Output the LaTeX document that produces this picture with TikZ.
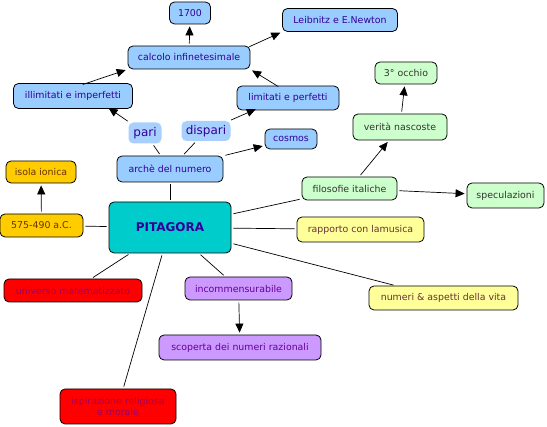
\documentclass[tikz,border=0pt]{standalone}
\usepackage{fontspec}
\setmainfont{DejaVu Sans}
\usetikzlibrary{arrows.meta}
\definecolor{cblue}{HTML}{99CCFF}
\definecolor{cpari}{HTML}{A8D0FF}
\definecolor{cteal}{HTML}{00CCCC}
\definecolor{corange}{HTML}{FFCC00}
\definecolor{cred}{HTML}{FF0000}
\definecolor{cpurple}{HTML}{CC99FF}
\definecolor{cgreen}{HTML}{CCFFCC}
\definecolor{cyellow}{HTML}{FFFF99}
\definecolor{tblue}{HTML}{330099}
\definecolor{tbrown}{HTML}{663300}
\definecolor{tred}{HTML}{990066}
\definecolor{tgreen}{HTML}{333333}
\definecolor{tyellow}{HTML}{663333}
\definecolor{tpurple}{HTML}{660099}
\tikzset{
  box/.style={draw=black, line width=0.8pt, rounded corners=5pt, align=center,
    inner sep=0pt, font=\fontsize{9.4}{11}\selectfont},
  bluebox/.style={box, fill=cblue, text=tblue},
  orangebox/.style={box, fill=corange, text=tbrown},
  redbox/.style={box, fill=cred, text=tred},
  purplebox/.style={box, fill=cpurple, text=tpurple},
  greenbox/.style={box, fill=cgreen, text=tgreen},
  yellowbox/.style={box, fill=cyellow, text=tyellow},
  linkbox/.style={fill=cpari, rounded corners=5pt, text=tblue, inner sep=0pt,
    font=\fontsize{12}{14}\selectfont},
  conn/.style={line width=0.7pt, shorten <=2pt, shorten >=2pt},
  arr/.style={conn, -{Triangle[length=9pt,width=8pt]}},
}
\begin{document}
\begin{tikzpicture}[x=1pt,y=-1pt]
\useasboundingbox (0,0) rectangle (547,427);
\fill[white] (0,0) rectangle (547,427);
% blue nodes
\node[bluebox, minimum width=41pt, minimum height=22pt] (y1700) at (190,13) {1700};
\node[bluebox, minimum width=122pt, minimum height=23pt] (calc) at (189,57.5) {calcolo infinetesimale};
\node[bluebox, minimum width=115pt, minimum height=23pt] (leib) at (340,20) {Leibnitz e E.Newton};
\node[bluebox, minimum width=119pt, minimum height=25pt] (illim) at (73,96) {illimitati e imperfetti};
\node[bluebox, minimum width=102pt, minimum height=24pt] (lim) at (288,98) {limitati e perfetti};
\node[linkbox, minimum width=33pt, minimum height=21pt] (pari) at (145,133) {pari};
\node[linkbox, minimum width=49pt, minimum height=20pt] (disp) at (206,131) {dispari};
\node[bluebox, minimum width=52pt, minimum height=20pt] (cosmos) at (291,139) {cosmos};
\node[bluebox, minimum width=106pt, minimum height=26pt] (arche) at (170,169) {archè del numero};
% center
\node[box, fill=cteal, text=tblue, minimum width=122pt, minimum height=51pt,
  font=\fontsize{12}{14}\selectfont\bfseries] (pit) at (170,227.5) {PITAGORA};
% orange
\node[orangebox, minimum width=70pt, minimum height=22pt] (isola) at (41,172) {isola ionica};
\node[orangebox, minimum width=83pt, minimum height=23pt] (date) at (41.5,225.5) {575-490 a.C.};
% red
\node[redbox, minimum width=138pt, minimum height=23pt] (univ) at (73,290.5) {universo matematizzato};
\node[redbox, minimum width=116pt, minimum height=35pt] (ispir) at (118,406.5) {ispirazione religiosa\\e morale};
% purple
\node[purplebox, minimum width=107pt, minimum height=23pt] (incomm) at (238.5,288.5) {incommensurabile};
\node[purplebox, minimum width=162pt, minimum height=25pt] (scop) at (240,347.5) {scoperta dei numeri razionali};
% green
\node[greenbox, minimum width=62pt, minimum height=22pt] (occhio) at (406,73) {3° occhio};
\node[greenbox, minimum width=94pt, minimum height=26pt] (verita) at (400,127) {verità nascoste};
\node[greenbox, minimum width=95pt, minimum height=23pt] (filo) at (349.5,188.5) {filosofie italiche};
\node[greenbox, minimum width=77pt, minimum height=25pt] (spec) at (505.5,195.5) {speculazioni};
% yellow
\node[yellowbox, minimum width=127pt, minimum height=25pt] (rapp) at (360.5,229.5) {rapporto con lamusica};
\node[yellowbox, minimum width=149pt, minimum height=24pt] (numeri) at (443.5,298) {numeri \& aspetti della vita};
% connectors
\draw[arr] (calc) -- (y1700);
\draw[arr] (calc.north east) ++(-3pt,-2pt) coordinate (c1) (c1) -- (leib.south west);
\draw[arr] (illim.north) ++(8pt,-2pt) coordinate (c2) (c2) -- (calc.south west);
\draw[arr] (lim.north) ++(-8pt,-2pt) coordinate (c3) (c3) -- (calc.south east);
\draw[conn] (arche) -- (pari);
\draw[arr] (pari) -- ([xshift=-26pt,yshift=2pt]illim.south east);
\draw[conn] (arche) -- (disp);
\draw[arr] (disp) -- ([xshift=21pt,yshift=2pt]lim.south west);
\draw[arr] (arche) -- (cosmos);
\draw[conn] (arche) -- (pit);
\draw[arr] (date) -- (isola);
\draw[conn] (date) -- (pit);
\draw[conn] (pit) -- (univ);
\draw[conn] (pit) -- (ispir);
\draw[conn] (pit) -- (incomm);
\draw[arr] (incomm) -- (scop);
\draw[conn] (pit) -- (filo);
\draw[conn] (pit) -- (rapp);
\draw[conn] (pit) -- (numeri);
\draw[arr] (filo) -- (verita);
\draw[arr] (verita) -- (occhio);
\draw[arr] (filo) -- (spec);
\end{tikzpicture}
\end{document}
